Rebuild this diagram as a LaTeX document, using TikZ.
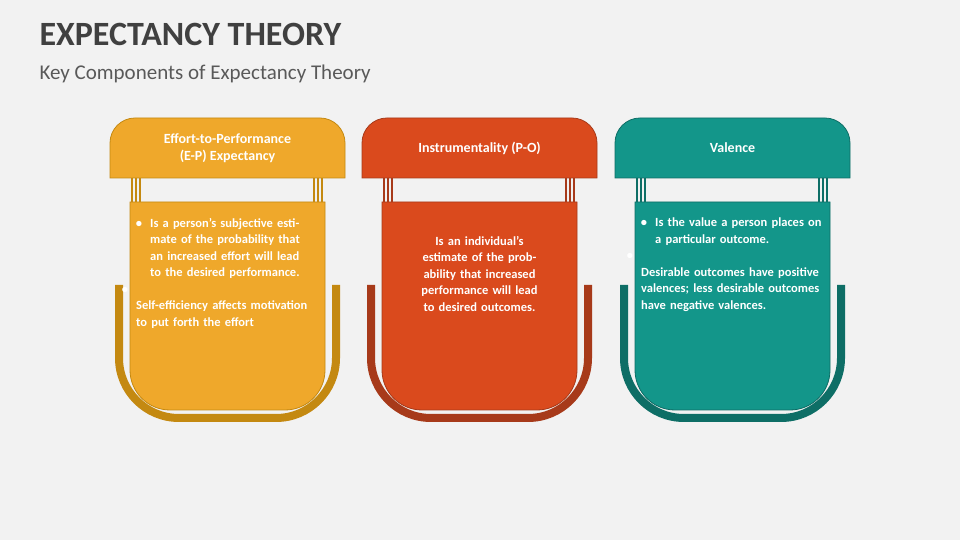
\documentclass[tikz,border=0pt]{standalone}
\usepackage{fontspec}
\setmainfont{Carlito}
\usetikzlibrary{positioning}
\definecolor{bgrey}{HTML}{F2F2F2}
\definecolor{ttl}{HTML}{404040}
\definecolor{sub}{HTML}{595959}
\definecolor{ora}{HTML}{EFA82B}
\definecolor{orad}{HTML}{C48911}
\definecolor{red}{HTML}{DA4A1D}
\definecolor{redd}{HTML}{A73A1A}
\definecolor{tea}{HTML}{13968A}
\definecolor{tead}{HTML}{0E6E66}
\tikzset{
    x=1pt, y=1pt,
    head/.style = {text=white, font=\bfseries\fontsize{14}{17}\selectfont, align=center},
    body/.style = {text=white, font=\bfseries\fontsize{12.5}{16.5}\selectfont, text width=176pt, inner sep=0pt},
    post/.style = {line width=1.3pt},
}
% one card: left x, fill, dark, name
\newcommand{\card}[4]{
    \draw[#3, line width=8pt] (#1+9,255) -- (#1+9,182) arc[start angle=180,end angle=270,radius=60]
        -- (#1+166,122) arc[start angle=270,end angle=360,radius=60] -- (#1+226,255);
    \foreach \dx in {22,26,30,204,208,212}
        \draw[post, #3] (#1+\dx,362) -- (#1+\dx,338);
    \path[fill=#2, draw=#3, line width=0.8pt] (#1+20,338) -- (#1+20,170) arc[start angle=180,end angle=270,radius=40]
        -- (#1+175,130) arc[start angle=270,end angle=360,radius=40] -- (#1+215,338) -- cycle;
    \path[fill=#2, draw=#3, line width=0.8pt] (#1,362) -- (#1,397) arc[start angle=180,end angle=90,radius=25]
        -- (#1+210,422) arc[start angle=90,end angle=0,radius=25] -- (#1+235,362) -- cycle;
    \coordinate (#4) at (#1+117.5,392);
}
\begin{document}
\begin{tikzpicture}
    \fill[bgrey] (0,0) rectangle (960,540);
    \useasboundingbox (0,0) rectangle (960,540);
    \node[anchor=west, text=ttl, font=\bfseries\fontsize{34}{40}\selectfont] (title) at (36,506) {EXPECTANCY THEORY};
    \node[anchor=west, text=sub, font=\fontsize{21}{25}\selectfont] (subtitle) at (36,466) {Key Components of Expectancy Theory};

    \card{110}{ora}{orad}{ep}
    \card{362}{red}{redd}{po}
    \card{615}{tea}{tead}{val}

    \node[head] (eph) at (ep) {Effort-to-Performance\\(E-P) Expectancy};
    \node[head] (poh) at (po) {Instrumentality (P-O)};
    \node[head] (valh) at (val) {Valence};

    \node[body, anchor=north west] (ept) at (136,322) {
        \leftskip=14pt\parindent=0pt
        \llap{•\hskip8pt}Is a person’s subjective estimate of the probability that an increased effort will lead to the desired performance.\par
        \llap{•\hskip8pt}Self-efficiency affects motivation to put forth the effort};
    \node[body, anchor=north, align=center, text width=120pt] (pot) at (479.5,304) {Is an individual’s estimate of the probability that increased performance will lead to desired outcomes.};
    \node[body, anchor=north west, text width=190pt] (valt) at (641,322) {
        \leftskip=14pt\parindent=0pt
        \llap{•\hskip8pt}Is the value a person places on a particular outcome.\par
        \llap{•\hskip8pt}Desirable outcomes have positive valences; less desirable outcomes have negative valences.};
\end{tikzpicture}
\end{document}
